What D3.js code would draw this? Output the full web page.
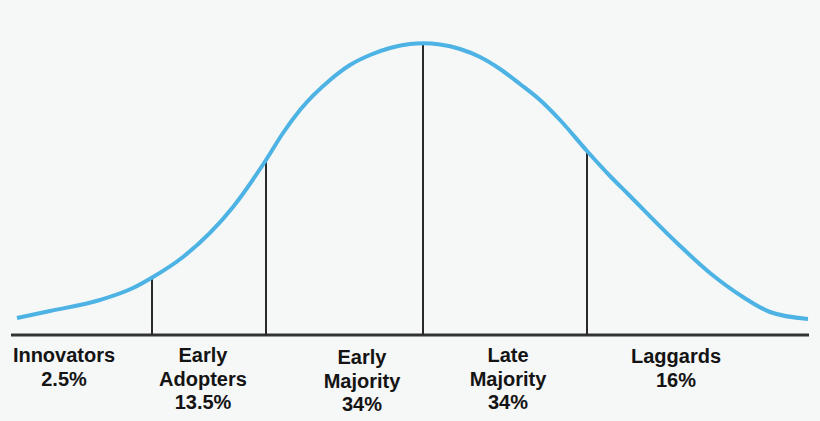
<!DOCTYPE html>
<html>
<head>
<meta charset="utf-8">
<script src="https://cdn.jsdelivr.net/npm/d3@7"></script>
<style>
  html, body { margin: 0; padding: 0; background: #f6f7f7; }
  svg { display: block; }
  text { font-family: "Liberation Sans", Arial, sans-serif; font-weight: bold; fill: #141414; }
</style>
</head>
<body>
<svg id="chart" width="820" height="421"></svg>
<script>
// ---- DATA ----
// Adoption curve: position along adoption axis and curve height
const curveX = [17, 50, 100, 133, 153, 183, 233, 266, 283, 300, 330, 350, 370, 390, 410, 423, 440, 460, 480, 500, 520, 540, 560, 587, 610, 627, 677, 710, 743, 770, 808];
const curveY = [17, 24, 35, 47, 58, 78, 128, 175, 202, 225, 255, 270, 280, 287, 291, 291.7, 290.5, 286, 278, 266, 251, 235, 215, 184, 159, 142, 92, 62, 38, 23, 16];
// Segment dividers (position, height where they meet the curve)
const dividerX = [152, 266, 423, 587];
const dividerY = [58, 175, 292, 182];
// Categories and shares
const categories = [["Innovators"], ["Early", "Adopters"], ["Early", "Majority"], ["Late", "Majority"], ["Laggards"]];
const shares = ["2.5%", "13.5%", "34%", "34%", "16%"];

// ---- LAYOUT ----
const W = 820, H = 421;
const baseY = 335, topY = 43;
const axisStart = 11, axisEnd = 809;
const labelCx = [64, 203, 362, 508, 676];
const labelTop = [362, 362, 364, 362, 363];
const lineGap = 23.5;

const svg = d3.select("#chart");
const x = d3.scaleLinear().domain([0, 820]).range([0, W]);
const y = d3.scaleLinear().domain([0, 292]).range([baseY, topY]);

// baseline axis
svg.append("line")
  .attr("x1", axisStart).attr("x2", axisEnd)
  .attr("y1", baseY).attr("y2", baseY)
  .attr("stroke", "#333").attr("stroke-width", 3);

// dividers
svg.selectAll("line.div").data(dividerX.map((d, i) => [d, dividerY[i]]))
  .enter().append("line").attr("class", "div")
  .attr("x1", d => x(d[0])).attr("x2", d => x(d[0]))
  .attr("y1", baseY).attr("y2", d => y(d[1]))
  .attr("stroke", "#2a2a2a").attr("stroke-width", 2);

// curve
const pts = curveX.map((d, i) => [d, curveY[i]]);
const line = d3.line().x(d => x(d[0])).y(d => y(d[1])).curve(d3.curveMonotoneX);
svg.append("path").datum(pts)
  .attr("d", line)
  .attr("fill", "none")
  .attr("stroke", "#4cb3e4")
  .attr("stroke-width", 4)
  .attr("stroke-linecap", "butt");

// labels
categories.forEach((lines, i) => {
  const all = lines.concat([shares[i]]);
  const t = svg.append("text")
    .attr("text-anchor", "middle")
    .attr("font-size", 20);
  all.forEach((s, j) => {
    t.append("tspan")
      .attr("x", labelCx[i])
      .attr("y", labelTop[i] + j * lineGap)
      .text(s);
  });
});
</script>
</body>
</html>
